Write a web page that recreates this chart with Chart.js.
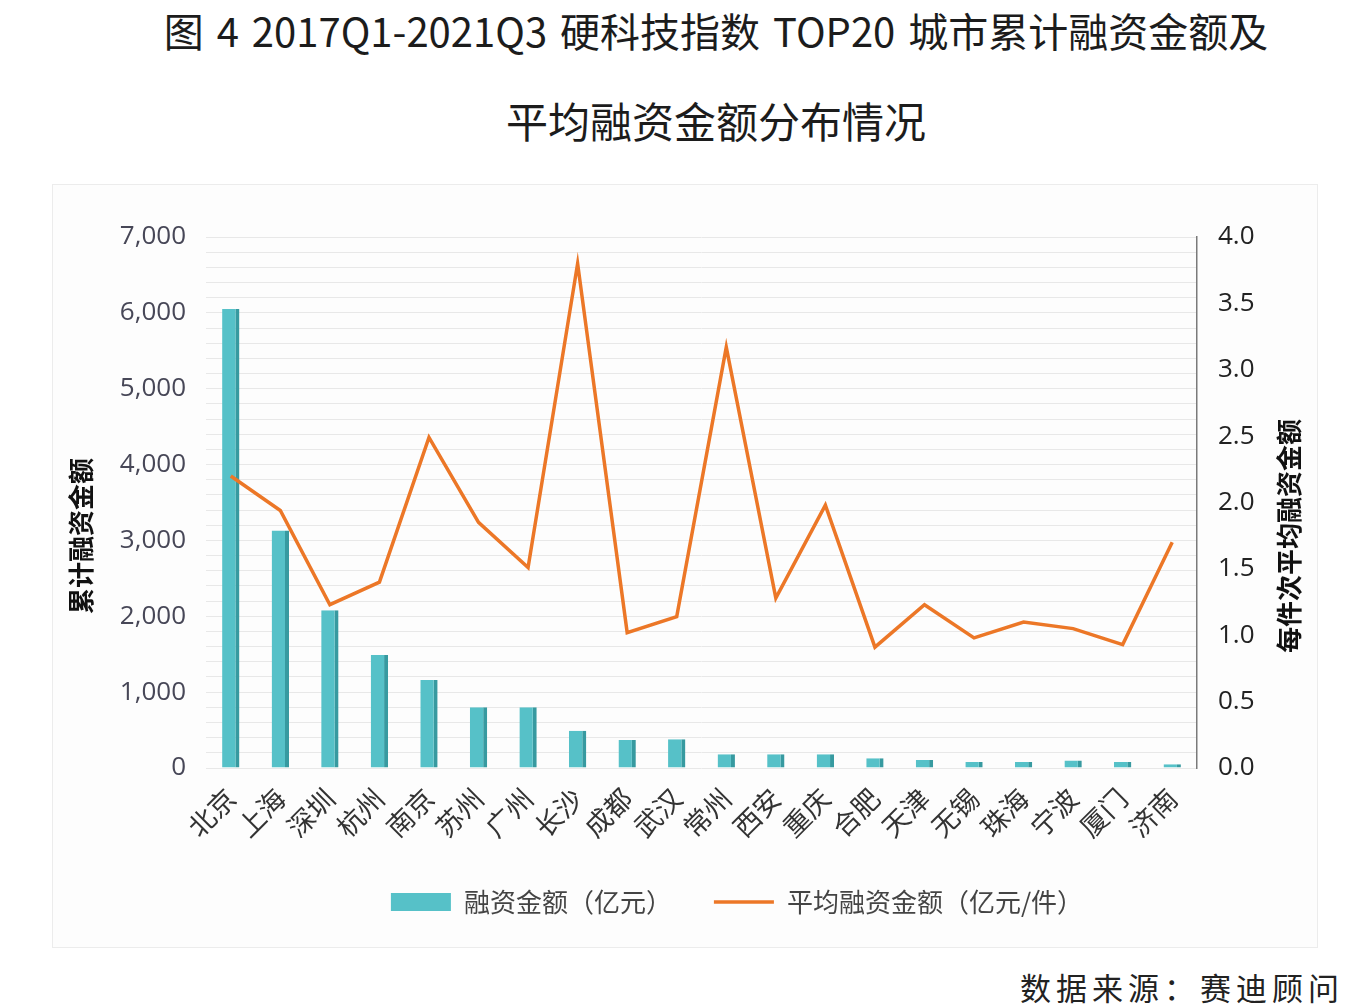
<!DOCTYPE html>
<html>
<head>
<meta charset="utf-8">
<script src="https://cdn.jsdelivr.net/npm/chart.js@4.4.0/dist/chart.umd.min.js"></script>
<style>
  body { margin: 0; background: #fff; width: 1364px; height: 1006px; position: relative; overflow: hidden; font-family: "Noto Sans CJK SC", sans-serif; }
  .title { position: absolute; left: 34px; width: 1364px; text-align: center; color: #1c1c1c; line-height: 56px; white-space: pre; }
  #t1 { top: 2px; font-size: 40px; word-spacing: 4px; }
  #t2 { top: 92px; font-size: 42px; }
  #panel { position: absolute; left: 52px; top: 184px; width: 1266px; height: 764px; box-sizing: border-box; border: 1px solid #ececec; background: #fdfdfd; }
  #source { position: absolute; right: 20px; top: 965px; font-size: 31px; line-height: 44px; letter-spacing: 5px; color: #222; }
</style>
</head>
<body>
<div class="title" id="t1">图 4 2017Q1-2021Q3 硬科技指数 TOP20 城市累计融资金额及</div>
<div class="title" id="t2">平均融资金额分布情况</div>
<div id="panel"><canvas id="comboChart"></canvas></div>
<div id="source">数据来源：赛迪顾问</div>
<script>
const cities = ["北京", "上海", "深圳", "杭州", "南京", "苏州", "广州", "长沙", "成都", "武汉",
                "常州", "西安", "重庆", "合肥", "天津", "无锡", "珠海", "宁波", "厦门", "济南"];
// 融资金额（亿元）
const amount = [6050, 3130, 2080, 1490, 1160, 800, 800, 490, 370, 380,
                180, 180, 180, 130, 105, 80, 80, 100, 80, 50];
// 平均融资金额（亿元/件）
const avgAmount = [2.20, 1.94, 1.23, 1.40, 2.49, 1.85, 1.51, 3.80, 1.02, 1.14,
                   3.17, 1.28, 1.98, 0.91, 1.23, 0.98, 1.10, 1.05, 0.93, 1.70];
const seriesNames = ["融资金额（亿元）", "平均融资金额（亿元/件）"];
const axisNames = ["累计融资金额", "每件次平均融资金额"];

const tickFont = { family: '"Open Sans", "Noto Sans CJK SC", sans-serif', size: 26 };
const cjkFont = '"Noto Sans CJK SC", sans-serif';

// axis titles (both read bottom to top) + nudge the legend to the right
const axisTitlePlugin = {
  id: 'axisTitles',
  afterLayout(chart) {
    chart.legend.left += 104;
  },
  afterDraw(chart) {
    const ctx = chart.ctx;
    const midY = 351;
    const spots = [[28, axisNames[0]], [1236, axisNames[1]]];
    ctx.save();
    ctx.font = 'bold 26px ' + cjkFont;
    ctx.fillStyle = '#111';
    ctx.textAlign = 'center';
    ctx.textBaseline = 'middle';
    spots.forEach(function (s) {
      ctx.save();
      ctx.translate(s[0], midY);
      ctx.rotate(-Math.PI / 2);
      ctx.fillText(s[1], 0, 0);
      ctx.restore();
    });
    ctx.restore();
  }
};

var canvas = document.getElementById("comboChart");

var chart = new Chart(canvas, {
  data: {
    labels: cities,
    datasets: [{
      type: 'bar',
      label: seriesNames[0],
      data: amount,
      yAxisID: 'y',
      backgroundColor: '#56c1c8',
      borderColor: '#379aa0',
      borderWidth: { right: 4, left: 0, top: 0, bottom: 0 },
      borderSkipped: false,
      barPercentage: 0.35,
      categoryPercentage: 1,
      order: 2
    }, {
      type: 'line',
      label: seriesNames[1],
      data: avgAmount,
      yAxisID: 'y1',
      borderColor: '#ec7727',
      backgroundColor: '#ec7727',
      borderWidth: 3.5,
      pointRadius: 0,
      tension: 0,
      order: 1
    }]
  },
  options: {
    responsive: true,
    maintainAspectRatio: false,
    animation: false,
    layout: { padding: { top: 52, bottom: 22, left: 0, right: 0 } },
    plugins: {
      tooltip: { enabled: false },
      legend: {
        position: 'bottom',
        labels: {
          usePointStyle: true,
          pointStyleWidth: 60,
          boxHeight: 18,
          padding: 42,
          color: '#444',
          font: { family: cjkFont, size: 26 },
          generateLabels: function (c) {
            return c.data.datasets.map(function (ds, i) {
              var isLine = ds.type === 'line';
              return {
                text: ds.label,
                datasetIndex: i,
                fillStyle: isLine ? ds.borderColor : ds.backgroundColor,
                strokeStyle: ds.borderColor,
                lineWidth: isLine ? 3.5 : 0,
                pointStyle: isLine ? 'line' : 'rect',
                hidden: false,
                fontColor: '#444'
              };
            });
          }
        }
      }
    },
    scales: {
      x: {
        grid: { display: false },
        border: { display: false },
        ticks: {
          color: '#333',
          font: { family: cjkFont, size: 27 },
          minRotation: 45,
          maxRotation: 45,
          autoSkip: false,
          padding: 6
        },
        afterFit: function (s) { s.height = 79; }
      },
      y: {
        position: 'left',
        min: 0,
        max: 7000,
        grid: { color: '#e8e8e8', drawTicks: false, lineWidth: 1 },
        border: { display: false },
        ticks: {
          stepSize: 200,
          autoSkip: false,
          padding: 20,
          color: '#474757',
          font: tickFont,
          callback: function (v) { return v % 1000 === 0 ? v.toLocaleString('en-US') : ''; }
        },
        afterFit: function (s) { s.width = 153; }
      },
      y1: {
        position: 'right',
        min: 0,
        max: 4,
        grid: { display: false },
        border: { display: true, color: '#7a7a7a', width: 1.5 },
        ticks: {
          stepSize: 0.5,
          padding: 13,
          color: '#222',
          font: tickFont,
          callback: function (v) { return v.toFixed(1); }
        },
        afterFit: function (s) { s.width = 120; }
      }
    }
  },
  plugins: [axisTitlePlugin]
});
</script>
</body>
</html>
